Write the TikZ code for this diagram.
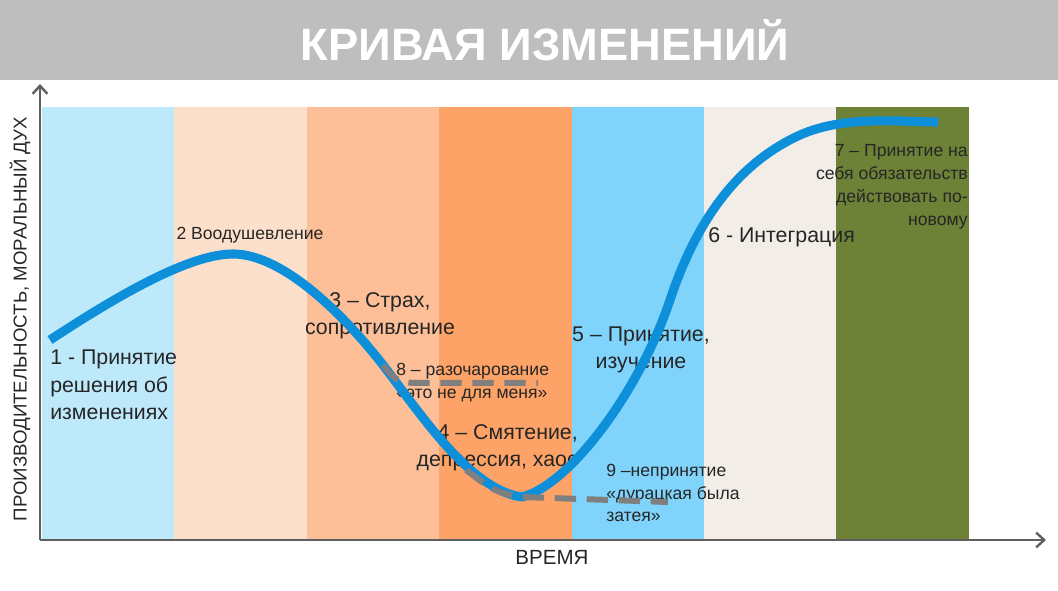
\documentclass[tikz,border=0pt]{standalone}
\usepackage{fontspec}
\setmainfont{Liberation Sans}
\usetikzlibrary{arrows.meta}
\definecolor{CurveBlue}{HTML}{0D8FD9}
\definecolor{TitleGray}{HTML}{BEBEBE}
\definecolor{AxisGray}{HTML}{5F5F5F}
\definecolor{DashGray}{HTML}{7F7F7F}
\definecolor{LabelInk}{HTML}{262626}
\definecolor{BandA}{HTML}{BEE9FB}
\definecolor{BandB}{HTML}{FDE0CB}
\definecolor{BandC}{HTML}{FDBF98}
\definecolor{BandD}{HTML}{FDA367}
\definecolor{BandE}{HTML}{80D4FC}
\definecolor{BandF}{HTML}{F2EDE7}
\definecolor{BandG}{HTML}{6D8236}
\tikzset{
  stage/.style={text=LabelInk,inner sep=0pt,font=\fontsize{16}{20.5}\selectfont},
  note/.style={text=LabelInk,inner sep=0pt,font=\fontsize{13.2}{17.2}\selectfont},
  axislabel/.style={text=LabelInk,inner sep=0pt,font=\fontsize{14}{14}\selectfont},
  axis/.style={draw=AxisGray,line width=2.2pt,-{Straight Barb[length=6pt,width=11pt,line width=1.8pt]}},
  curve/.style={draw=CurveBlue,line width=6.8pt,line join=round},
  setback/.style={draw=DashGray,line width=4.5pt,dash pattern=on 16pt off 8pt}
}
\begin{document}
\begin{tikzpicture}[x=0.75pt,y=-0.75pt]
  \useasboundingbox (0,0) rectangle (1058,591);
  % title bar
  \fill[TitleGray] (0,0) rectangle (1058,80);
  \node[text=white,font=\fontsize{34}{34}\bfseries\selectfont] (title) at (545,40) {КРИВАЯ ИЗМЕНЕНИЙ};
  % stage bands
  \foreach \band [count=\i from 0] in {BandA,BandB,BandC,BandD,BandE,BandF,BandG}
    \fill[\band] ({42+\i*132.4},107) rectangle ({42+(\i+1)*132.4},540);
  % axes
  \coordinate (origin) at (40,540);
  \coordinate (ytip) at (40,84);
  \coordinate (xtip) at (1046,540);
  \draw[axis] (origin) -- (ytip);
  \draw[axis] (origin) -- (xtip);
  \node[axislabel,rotate=90] (ylabel) at (20,319) {ПРОИЗВОДИТЕЛЬНОСТЬ, МОРАЛЬНЫЙ ДУХ};
  \node[axislabel,font=\fontsize{15.4}{15.4}\selectfont] (xlabel) at (552,557) {ВРЕМЯ};
  % stage labels
  \node[stage,anchor=west,align=left] (decision) at (50,385) {1 - Принятие\\решения об\\изменениях};
  \node[note] (enthusiasm) at (250,235) {2 Воодушевление};
  \node[stage,align=center] (fear) at (380,316) {3 – Страх,\\сопротивление};
  \node[note,anchor=west,align=left] (letdown) at (396,383) {8 – разочарование\\«это не для меня»};
  \node[stage,anchor=east,align=right] (confusion) at (578,448) {4 – Смятение,\\депрессия, хаос};
  \node[stage,align=center] (acceptance) at (641,350) {5 – Принятие,\\изучение};
  \node[note,anchor=west,align=left] (rejection) at (606,493) {9 –непринятие\\«дурацкая была\\затея»};
  \node[stage,anchor=west] (integration) at (708,237) {6 - Интеграция};
  \node[note,anchor=east,align=right] (commitment) at (968,187) {7 – Принятие на\\себя обязательств\\действовать по-\\новому};
  % change curve
  \coordinate (start) at (50,340);
  \coordinate (peak) at (233,254);
  \coordinate (bend) at (383,365);
  \coordinate (bottom) at (522,497);
  \coordinate (climb) at (670,300);
  \coordinate (shoulder) at (800,135);
  \coordinate (finish) at (938,122);
  \draw[curve] (start) .. controls (120,294) and (190,254) .. (peak)
    .. controls (285,254) and (348,320) .. (bend)
    .. controls (420,413) and (470,490) .. (bottom)
    .. controls (570,485) and (640,390) .. (climb)
    .. controls (700,210) and (745,160) .. (shoulder)
    .. controls (845,115) and (900,122) .. (finish);
  % setback branches
  \draw[setback] (bend) .. controls (395,380) .. (412,383) -- (538,383);
  \draw[setback] (466,470) .. controls (495,492) .. (bottom) -- (668,502);
\end{tikzpicture}
\end{document}
